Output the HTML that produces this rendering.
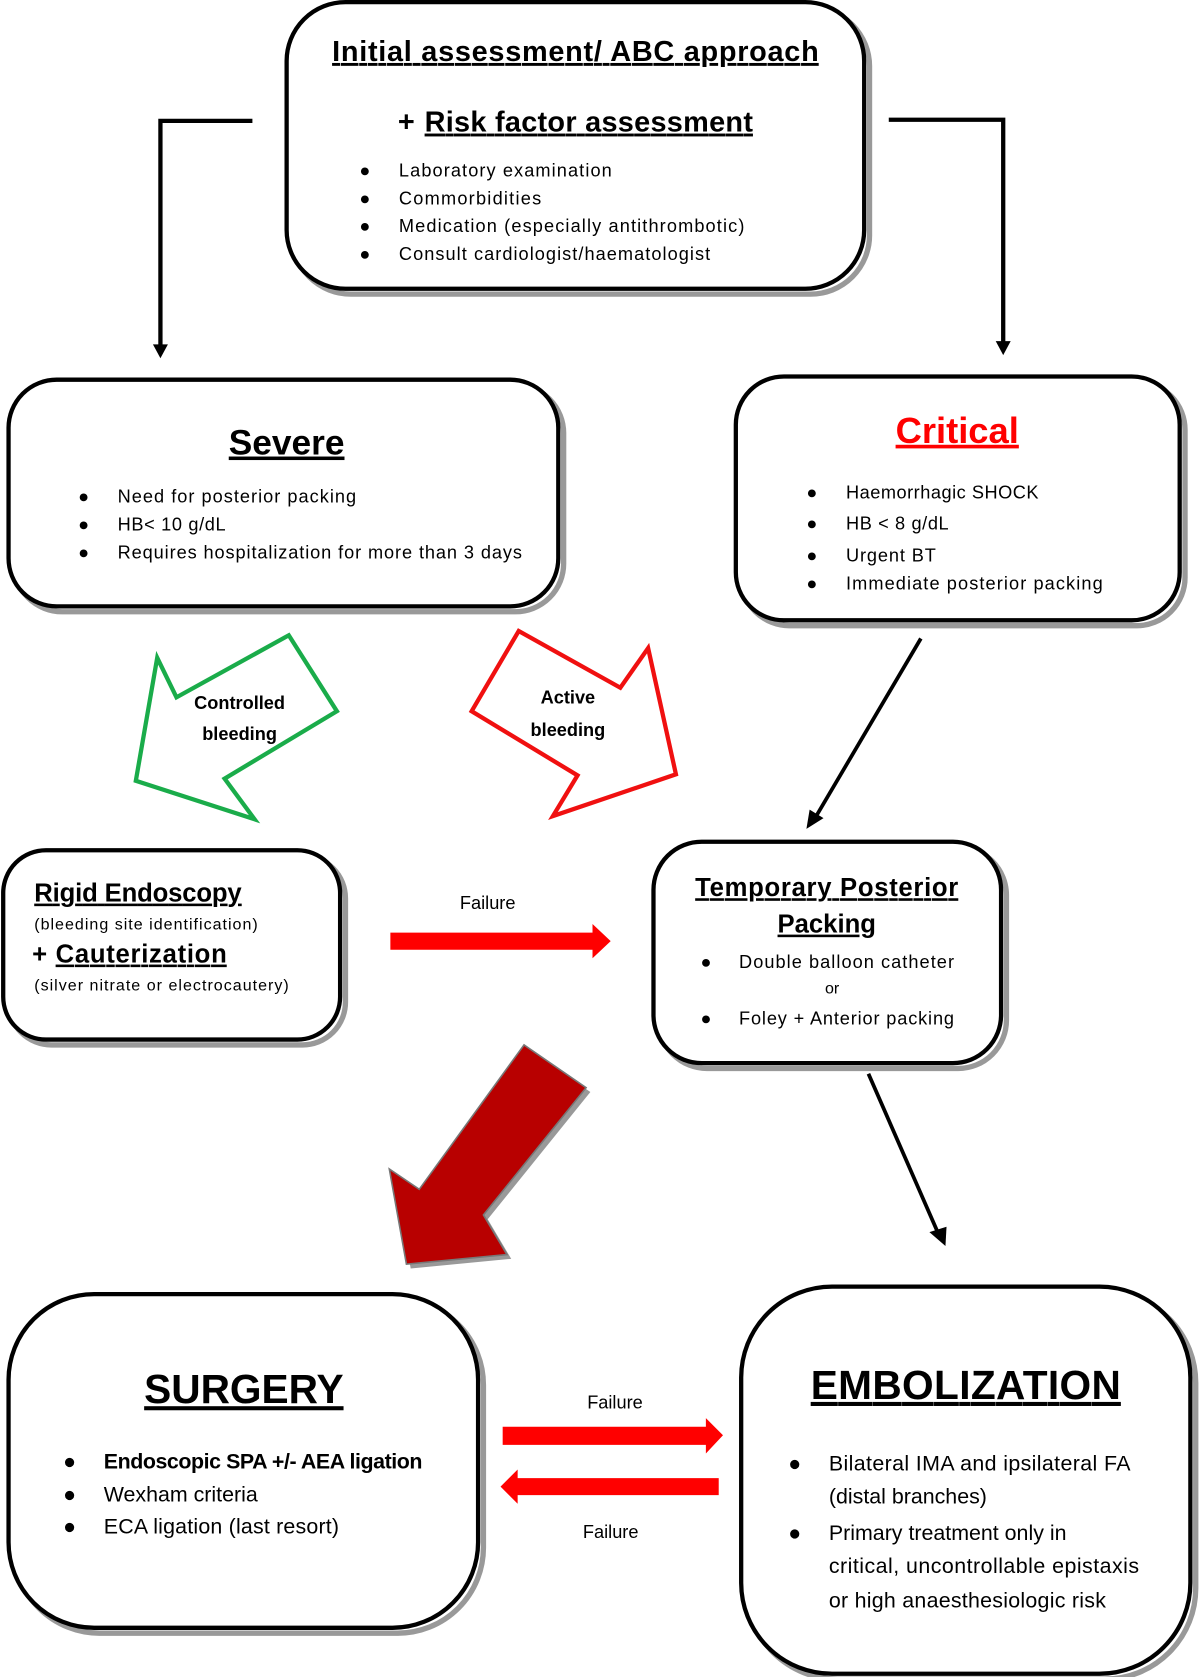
<!DOCTYPE html>
<html><head><meta charset="utf-8"><style>
html,body{margin:0;padding:0;background:#fff;}
svg{display:block;}
text{font-family:"Liberation Sans",sans-serif;fill:#000;}
.b{font-weight:bold;}
</style></head><body>
<svg width="1200" height="1677" viewBox="0 0 1122 1568" preserveAspectRatio="none" xmlns="http://www.w3.org/2000/svg">
<g fill="none" stroke="#999" stroke-width="5">
<rect x="273" y="7" width="540" height="268" rx="55"/>
<rect x="13" y="360" width="514" height="212" rx="45"/>
<rect x="693" y="357" width="415" height="228" rx="45"/>
<rect x="8" y="800" width="315" height="177" rx="40"/>
<rect x="616" y="792" width="325" height="207" rx="45"/>
<rect x="13" y="1215" width="439" height="312" rx="80"/>
<rect x="698" y="1208" width="420" height="362" rx="85"/>
</g>
<g fill="#fff" stroke="#000" stroke-width="4">
<rect x="268" y="2" width="540" height="268" rx="55"/>
<rect x="8" y="355" width="514" height="212" rx="45"/>
<rect x="688" y="352" width="415" height="228" rx="45"/>
<rect x="3" y="795" width="315" height="177" rx="40"/>
<rect x="611" y="787" width="325" height="207" rx="45"/>
<rect x="8" y="1210" width="439" height="312" rx="80"/>
<rect x="693" y="1203" width="420" height="362" rx="85"/>
</g>
<g stroke="#000" stroke-width="4" fill="none">
<polyline points="236,113 150,113 150,326"/>
<polyline points="831,112 938,112 938,323"/>
<line x1="861" y1="597" x2="762" y2="765" stroke-width="3.5"/>
<line x1="812" y1="1004" x2="878" y2="1155" stroke-width="3.5"/>
</g>
<g fill="#000">
<polygon points="143,322 157,322 150,335"/>
<polygon points="931,319 945,319 938,332"/>
<polygon points="754,775 757,757 770,765"/>
<polygon points="884,1165 869,1152 885,1147"/>
</g>
<polygon points="147,615 127,730 238,766 210,728 315,665 270,594 165,652" fill="#fff" stroke="#1aac4a" stroke-width="4"/>
<polygon points="441,665 485,590 580,643 606,606 632,724 517,763 540,725" fill="#fff" stroke="#f01010" stroke-width="4"/>
<polygon points="494,981 552,1021 456,1140 478,1177 384,1186 368,1097 396,1116" fill="#999"/>
<polygon points="490,977 548,1017 452,1136 474,1173 380,1182 364,1093 392,1112" fill="#b80000" stroke="#777" stroke-width="1.5"/>
<g fill="#f00">
<polygon points="365,872 554,872 554,864 571,880 554,896 554,888 365,888"/>
<polygon points="470,1334 660,1334 660,1326 676,1342 660,1359 660,1351 470,1351"/>
<polygon points="672,1382 484,1382 484,1374 468,1390 484,1406 484,1398 672,1398"/>
</g>
<text x="538" y="57" font-size="27" class="b" text-anchor="middle" text-decoration="underline" textLength="455">Initial assessment/ ABC approach</text>
<text x="372" y="123" font-size="27" class="b">+</text>
<text x="397" y="123" font-size="27" class="b" text-decoration="underline" textLength="307">Risk factor assessment</text>
<g font-size="17">
<text x="336" y="165">●</text><text x="373" y="165" textLength="199">Laboratory examination</text>
<text x="336" y="191">●</text><text x="373" y="191" textLength="133">Commorbidities</text>
<text x="336" y="217">●</text><text x="373" y="217" textLength="323">Medication (especially antithrombotic)</text>
<text x="336" y="243">●</text><text x="373" y="243" textLength="291">Consult cardiologist/haematologist</text>
</g>
<text x="268" y="425" font-size="33" class="b" text-anchor="middle" text-decoration="underline"> Severe</text>
<g font-size="17">
<text x="73" y="470">●</text><text x="110" y="470" textLength="223">Need for posterior packing</text>
<text x="73" y="496">●</text><text x="110" y="496" textLength="101">HB&lt; 10 g/dL</text>
<text x="73" y="522">●</text><text x="110" y="522" textLength="378">Requires hospitalization for more than 3 days</text>
</g>
<text x="895" y="414" font-size="34" class="b" text-anchor="middle" text-decoration="underline" style="fill:#f00">Critical</text>
<g font-size="17">
<text x="754" y="466">●</text><text x="791" y="466" textLength="180">Haemorrhagic SHOCK</text>
<text x="754" y="495">●</text><text x="791" y="495" textLength="96">HB &lt; 8 g/dL</text>
<text x="754" y="525">●</text><text x="791" y="525" textLength="84">Urgent BT</text>
<text x="754" y="551">●</text><text x="791" y="551" textLength="240">Immediate posterior packing</text>
</g>
<g font-size="17" class="b" text-anchor="middle">
<text x="224" y="663">Controlled</text><text x="224" y="692">bleeding</text>
<text x="531" y="658">Active</text><text x="531" y="688">bleeding</text>
</g>
<text x="32" y="843" font-size="24" class="b" text-decoration="underline" textLength="194">Rigid Endoscopy</text>
<text x="32" y="869" font-size="15" textLength="209">(bleeding site identification)</text>
<text x="30" y="900" font-size="24" class="b">+</text>
<text x="52" y="900" font-size="24" class="b" text-decoration="underline" textLength="160">Cauterization</text>
<text x="32" y="926" font-size="15" textLength="238">(silver nitrate or electrocautery)</text>
<text x="456" y="850" font-size="17" text-anchor="middle">Failure</text>
<text x="773" y="838" font-size="24" class="b" text-anchor="middle" text-decoration="underline" textLength="246">Temporary Posterior</text>
<text x="773" y="872" font-size="24" class="b" text-anchor="middle" text-decoration="underline">Packing</text>
<g font-size="17">
<text x="655" y="905">●</text><text x="691" y="905" textLength="201">Double balloon catheter</text>
<text x="778" y="929" font-size="15" text-anchor="middle">or</text>
<text x="655" y="958">●</text><text x="691" y="958" textLength="201">Foley + Anterior packing</text>
</g>
<text x="228" y="1312" font-size="38" class="b" text-anchor="middle" text-decoration="underline">SURGERY</text>
<g font-size="20">
<text x="59" y="1373">●</text><text x="97" y="1373" class="b" textLength="298">Endoscopic SPA +/- AEA ligation</text>
<text x="59" y="1404">●</text><text x="97" y="1404">Wexham criteria</text>
<text x="59" y="1434">●</text><text x="97" y="1434" textLength="220">ECA ligation (last resort)</text>
</g>
<text x="575" y="1317" font-size="17" text-anchor="middle">Failure</text>
<text x="571" y="1438" font-size="17" text-anchor="middle">Failure</text>
<text x="903" y="1308" font-size="38" class="b" text-anchor="middle" text-decoration="underline" textLength="290">EMBOLIZATION</text>
<g font-size="20">
<text x="737" y="1375">●</text><text x="775" y="1375" textLength="282">Bilateral IMA and ipsilateral FA</text>
<text x="775" y="1406">(distal branches)</text>
<text x="737" y="1440">●</text><text x="775" y="1440">Primary treatment only in</text>
<text x="775" y="1471" textLength="290">critical, uncontrollable epistaxis</text>
<text x="775" y="1503" textLength="259">or high anaesthesiologic risk</text>
</g>
</svg>
</body></html>
